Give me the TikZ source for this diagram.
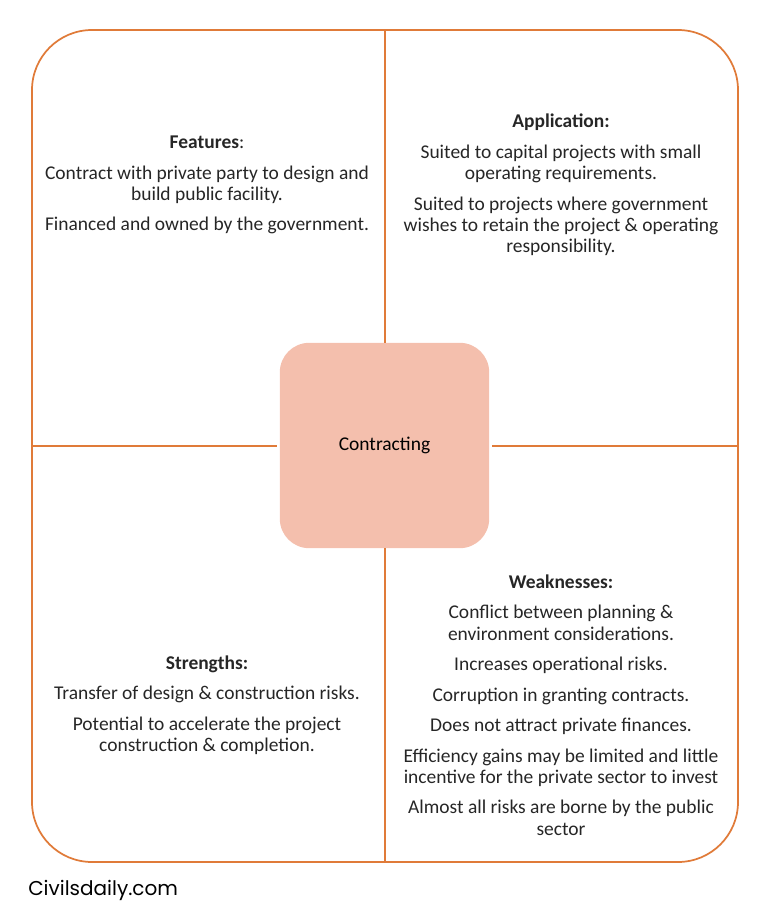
\documentclass[tikz,border=0pt]{standalone}
\usepackage{fontspec}
\setmainfont{Carlito}
\newfontfamily\wmfont{Poppins}
\definecolor{edge}{HTML}{E07B39}
\definecolor{core}{HTML}{F4BFAD}
\begin{document}
\begin{tikzpicture}[x=0.75pt,y=-0.75pt,
  txt/.style={align=center,font=\fontsize{14.6}{15.9}\selectfont,text=black!85},
  ln/.style={draw=edge,line width=1.3pt}]
\useasboundingbox (0,0) rectangle (768,917);
\draw[ln,rounded corners=45pt] (32,30) rectangle (738,862);
\node[fill=core,rounded corners=22pt,minimum width=157pt,minimum height=154pt,inner sep=0pt,font=\fontsize{14.6}{15}\selectfont] (c) at (384.5,445.5) {Contracting};
\coordinate (t) at (385,30);
\coordinate (b) at (385,862);
\coordinate (l) at (32,446);
\coordinate (r) at (738,446);
\draw[ln] (t) -- (c.north -| t);
\draw[ln] (c.south -| b) -- (b);
\draw[ln] (l) -- ([xshift=-2pt]c.west |- l);
\draw[ln] ([xshift=2pt]c.east |- r) -- (r);
\node[txt] (f) at (207,185) {\textbf{Features}:\\[7pt]Contract with private party to design and\\build public facility.\\[7pt]Financed and owned by the government.};
\node[txt] (a) at (561,185) {\textbf{Application:}\\[7pt]Suited to capital projects with small\\operating requirements.\\[7pt]Suited to projects where government\\wishes to retain the project \& operating\\responsibility.};
\node[txt] (s) at (207,705) {\textbf{Strengths:}\\[7pt]Transfer of design \& construction risks.\\[7pt]Potential to accelerate the project\\construction \& completion.};
\node[txt] (w) at (561,705) {\textbf{Weaknesses:}\\[7pt]Conflict between planning \&\\environment considerations.\\[7pt]Increases operational risks.\\[7pt]Corruption in granting contracts.\\[7pt]Does not attract private finances.\\[7pt]Efficiency gains may be limited and little\\incentive for the private sector to invest\\[7pt]Almost all risks are borne by the public\\sector};
\node[anchor=west,font=\wmfont\fontsize{15}{16}\selectfont,inner sep=0pt] (wm) at (28,890) {Civilsdaily.com};
\end{tikzpicture}
\end{document}
